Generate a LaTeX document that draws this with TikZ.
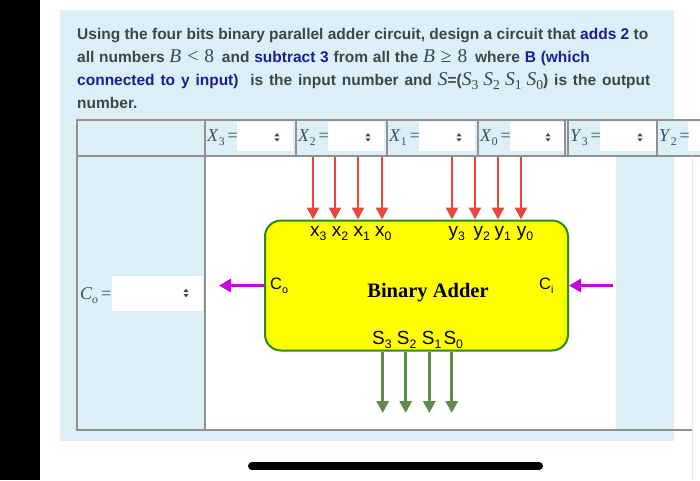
\documentclass[tikz,border=0pt]{standalone}
\usepackage{fontspec}
\setmainfont{Liberation Sans}
\newfontfamily\serif{Liberation Serif}
\usetikzlibrary{arrows.meta}
\definecolor{panel}{RGB}{221,239,246}
\definecolor{txt}{RGB}{58,70,76}
\definecolor{qblue}{RGB}{28,28,150}
\definecolor{tlinec}{RGB}{145,145,145}
\definecolor{lbl}{RGB}{55,80,100}
\definecolor{boxgreen}{RGB}{40,140,20}
\definecolor{boxyellow}{RGB}{255,255,0}
\definecolor{ared}{RGB}{232,72,60}
\definecolor{agreen}{RGB}{95,140,75}
\definecolor{amag}{RGB}{200,0,230}
\definecolor{chevc}{RGB}{70,70,70}
\newcommand\sbx[1]{\raisebox{-0.25em}{\scalebox{0.65}{#1}}}
\newcommand\msb[1]{\raisebox{-0.22em}{\scalebox{0.7}{#1}}}
\newcommand\bl[1]{\textcolor{qblue}{#1}}
\newcommand\mth[1]{{\serif\mdseries\fontsize{19.5}{22}\selectfont #1}}
\tikzset{
  tline/.style={draw=tlinec, line width=1.3pt},
  para/.style={anchor=base west, inner sep=0pt, text=txt, font=\bfseries\fontsize{15.5}{18}\selectfont},
  cellfont/.style={anchor=base west, inner sep=0pt, text=lbl, font=\serif\fontsize{18}{20}\selectfont},
  ddbox/.style={fill=white},
  pinlbl/.style={anchor=base west, inner sep=0pt, text=black, font=\fontsize{19}{22}\selectfont},
  redarr/.style={draw=ared, line width=2.5pt, -{Triangle[width=12pt,length=12pt]}},
  grnarr/.style={draw=agreen, line width=3pt, -{Triangle[width=12pt,length=12pt]}},
  magarr/.style={draw=amag, line width=3pt, -{Triangle[width=13pt,length=12pt]}},
  chev/.pic={\fill[chevc] (-2.6,-1) -- (2.6,-1) -- (0,-4.2) -- cycle;
             \fill[chevc] (-2.6,1) -- (2.6,1) -- (0,4.2) -- cycle;}
}
\begin{document}
\begin{tikzpicture}[x=1pt,y=-1pt]
\useasboundingbox (0,0) rectangle (700,480);
\fill[white] (0,0) rectangle (700,480);
\fill[black] (0,0) rectangle (40,480);
\fill[panel] (60,10) rectangle (674,441);
\fill[panel] (674,120) rectangle (700,156);
\fill[white] (205,156) rectangle (616,430);

% question text
\node[para] (l1) at (77,39) {Using the four bits binary parallel adder circuit, design a circuit that \bl{adds 2} to};
\node[para] (l2) at (77,62) {\spaceskip=4.8pt all numbers \mth{\textit{B}\hspace{6pt}<\hspace{6pt}8}\hspace{3pt} and \bl{subtract 3} from all the \mth{\textit{B}\hspace{6pt}≥\hspace{6pt}8}\hspace{3pt} where \bl{B (which}};
\node[para] (l3) at (77,85) {\spaceskip=5.85pt \bl{connected to y input)}\ \ is the input number and \mth{\textit{S}}=(\mth{\textit{S}\msb{3}\hspace{5pt}\textit{S}\msb{2}\hspace{5pt}\textit{S}\msb{1}\hspace{5pt}\textit{S}\msb{0}}) is the output};
\node[para] (l4) at (77,108) {number.};

% dropdown cells of first row
\foreach \L/\R/\nm/\sb/\n in {205/293/X/3/cx3, 296/384/X/2/cx2, 387/475/X/1/cx1, 478/564/X/0/cx0, 568/656/Y/3/cy3}{
  \fill[ddbox] (\L+32,122) rectangle (\R,151);
  \node[cellfont] (\n) at (\L+2,141) {\textit{\nm}\sbx{\sb}\,=};
  \pic at (\R-16,137.3) {chev};
}
\fill[ddbox] (688,122) rectangle (700,151);
\node[cellfont] (cy2) at (659,141) {\textit{Y}\sbx{2}\,=};

% C_o cell
\fill[ddbox] (112,276) rectangle (203,311);
\node[cellfont] (cco) at (80,299) {\textit{C\sbx{o}}\,=};
\pic at (186,293) {chev};

% table lines
\draw[tline] (700,120) -- (77,120) -- (77,430) -- (692,430);
\draw[tline] (77,156) -- (700,156);
\draw[tline] (205,120) -- (205,430);
\foreach \x in {296,387,478,565,568,657} \draw[tline] (\x,120) -- (\x,156);
\draw[draw={rgb,255:red,232;green,232;blue,232}, line width=1pt] (692,156) -- (692,480);

% adder box
\node[draw=boxgreen, fill=boxyellow, line width=2pt, rounded corners=16pt,
      minimum width=303pt, minimum height=130pt, inner sep=0pt] (adder) at (416.5,285.5) {};
\node[anchor=base, inner sep=0pt, font=\serif\bfseries\fontsize{20.5}{24}\selectfont] (title) at (428,297) {Binary Adder};

% input arrows
\foreach \x/\n in {313/a3, 335/a2, 358/a1, 382/a0, 452/b3, 475/b2, 498/b1, 521/b0}{
  \coordinate (\n) at (\x,157);
  \draw[redarr] (\n) -- (\n |- adder.north);
}
\foreach \x/\s/\n in {310/3/px3, 331.7/2/px2, 353.3/1/px1, 375/0/px0}
  \node[pinlbl] (\n) at (\x,236) {x\sbx{\s}};
\foreach \x/\s/\n in {448.3/3/py3, 473.3/2/py2, 494.3/1/py1, 516.7/0/py0}
  \node[pinlbl] (\n) at (\x,236) {y\sbx{\s}};

% output arrows
\foreach \x/\n in {382.7/s3, 405.7/s2, 429.3/s1, 451.7/s0}{
  \coordinate (\n) at (\x,413);
  \draw[grnarr] (\n |- adder.south) -- (\n);
}
\foreach \x/\s/\n in {372/3/ps3, 396.7/2/ps2, 421.7/1/ps1, 443.3/0/ps0}
  \node[pinlbl] (\n) at (\x,344) {S\sbx{\s}};

% carries
\coordinate (coend) at (219,285.5);
\coordinate (cistart) at (613,285.5);
\draw[magarr] (adder.west) -- (coend);
\draw[magarr] (cistart) -- (adder.east);
\node[pinlbl, font=\fontsize{16.5}{20}\selectfont] (pco) at (270,289.5) {C\sbx{o}};
\node[pinlbl, font=\fontsize{16.5}{20}\selectfont] (pci) at (539,289.5) {C\sbx{i}};

% home bar
\draw[line width=8pt, line cap=round] (252,466) -- (539,466);
\end{tikzpicture}
\end{document}
